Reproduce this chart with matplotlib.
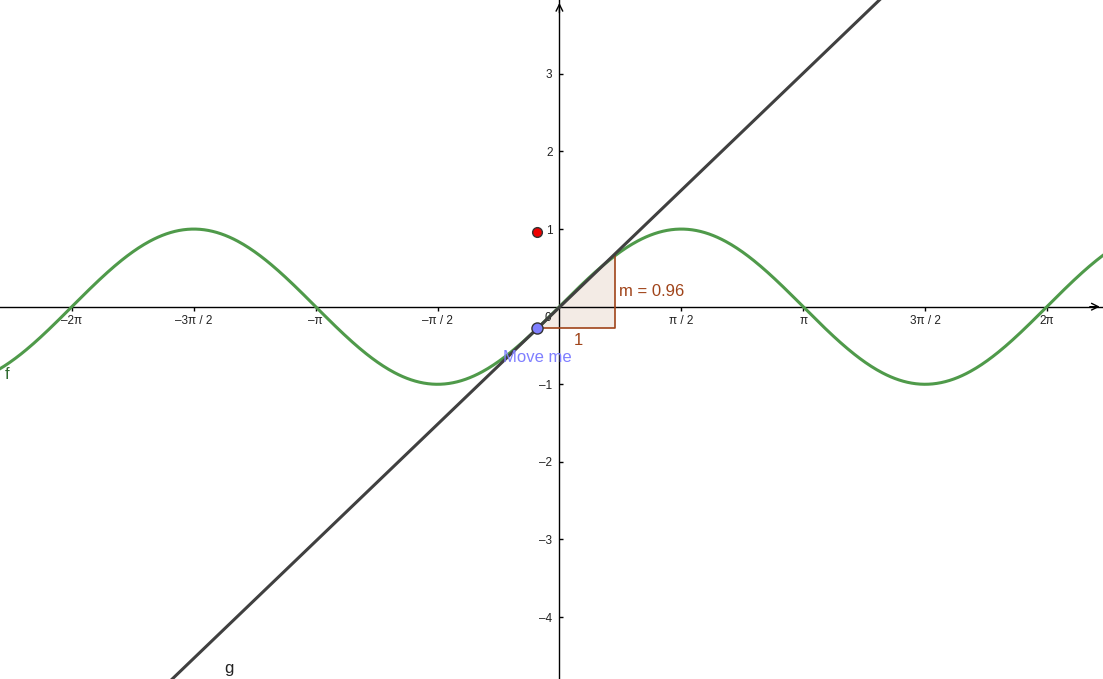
import matplotlib.pyplot as plt
import numpy as np

plt.rcParams['font.family'] = ['Liberation Sans', 'DejaVu Sans']

# ticks in multiples of pi/2
x_ticks = [-2 * np.pi, -1.5 * np.pi, -np.pi, -0.5 * np.pi, 0.5 * np.pi, np.pi, 1.5 * np.pi, 2 * np.pi]
x_labels = ["–2π", "–3π / 2", "–π", "–π / 2", "π / 2", "π", "3π / 2", "2π"]
y_ticks = [-4, -3, -2, -1, 1, 2, 3]
y_labels = ["–4", "–3", "–2", "–1", "1", "2", "3"]

# point "Move me" and slope
x0 = -0.2838
m = 0.96

fig = plt.figure(figsize=(11.03, 6.79), dpi=100)
ax = fig.add_axes([0, 0, 1, 1])
ax.set_xlim(-7.21, 7.006)
ax.set_ylim(-4.798, 3.952)

# f(x) = sin(x)
xs = np.linspace(-7.3, 7.1, 800)
ax.plot(xs, np.sin(xs), color='#4f9a4a', lw=2.2, zorder=3)

# tangent g
y0 = np.sin(x0)
ax.plot(xs, y0 + m * (xs - x0), color='#404040', lw=2.2, zorder=4)

# slope triangle
ax.fill([x0, x0 + 1, x0 + 1], [y0, y0, y0 + m], facecolor='#f3ebe5', edgecolor='none', zorder=2)
ax.plot([x0, x0 + 1, x0 + 1], [y0, y0, y0 + m], color='#a0441a', lw=1.2, zorder=3)

# points
ax.plot([x0], [y0], 'o', color='#7f7fff', mec='#333333', ms=8, mew=1, zorder=6)
ax.plot([x0], [m], 'o', color='#ee0000', mec='#333333', ms=7, mew=1, zorder=6)

# axes through origin
for s in ['top', 'right']:
    ax.spines[s].set_visible(False)
ax.spines['left'].set_position('zero')
ax.spines['bottom'].set_position('zero')
ax.spines['left'].set_linewidth(1)
ax.spines['bottom'].set_linewidth(1)
ax.set_xticks(x_ticks)
ax.set_xticklabels(x_labels)
ax.set_yticks(y_ticks)
ax.set_yticklabels(y_labels)
ax.tick_params(axis='x', direction='out', length=3, width=1, pad=3, labelsize=8.5)
ax.tick_params(axis='y', direction='in', length=3, width=1, pad=5, labelsize=8.5)
for lab in ax.get_xticklabels() + ax.get_yticklabels():
    lab.set_color('#222222')

# arrow heads
ax.annotate('', xy=(7.0, 0), xytext=(6.8, 0),
            arrowprops=dict(arrowstyle='->', color='black', lw=1, mutation_scale=12))
ax.annotate('', xy=(0, 3.95), xytext=(0, 3.75),
            arrowprops=dict(arrowstyle='->', color='black', lw=1, mutation_scale=12))

ax.text(-0.15, -0.14, "0", fontsize=8.5, color='#222222', ha='center', va='center')

# labels
ax.text(-7.12, -0.88, "f", fontsize=12, color='#2f6b2f', ha='center', va='center', zorder=7)
ax.text(-4.26, -4.66, "g", fontsize=12, color='#222222', ha='center', va='center', zorder=7)
ax.text(x0 + 1.05, 0.19, "m = 0.96", fontsize=12, color='#a0441a', ha='left', va='center', zorder=7)
ax.text(0.24, -0.44, "1", fontsize=12, color='#a0441a', ha='center', va='center', zorder=7)
ax.text(x0, -0.65, "Move me", fontsize=12, color='#7f7fff', ha='center', va='center', zorder=7)

fig.savefig('out.png', dpi=100)
